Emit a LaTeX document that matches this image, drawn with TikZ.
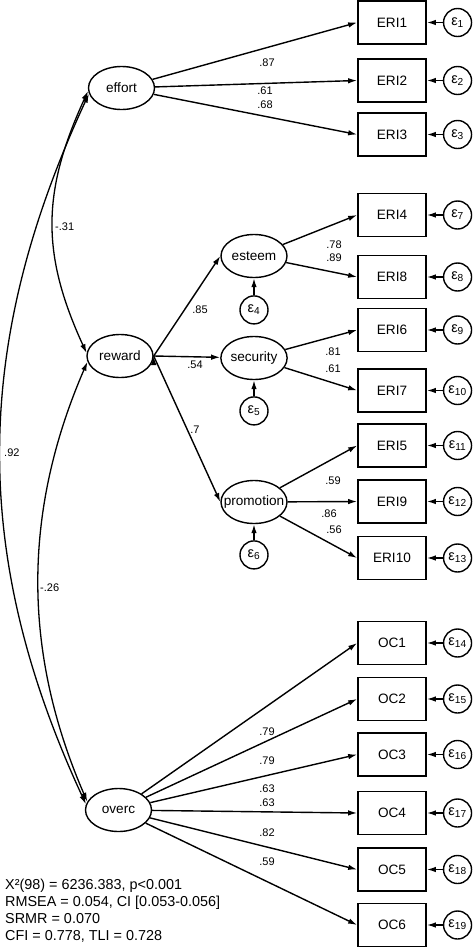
\documentclass[tikz,border=0pt]{standalone}
\usepackage{fontspec}
\setmainfont{Liberation Sans}
\usetikzlibrary{positioning,shapes.geometric,arrows.meta}

\begin{document}
\begin{tikzpicture}[x=1pt, y=-1pt,
	lat/.style={draw, ellipse, line width=1.4pt, minimum width=66pt, minimum height=43pt, inner sep=0pt, font=\fontsize{13.6}{15}\selectfont},
	obs/.style={draw, rectangle, line width=1.7pt, minimum width=68pt, minimum height=43pt, inner sep=0pt, font=\fontsize{13.6}{15}\selectfont},
	err/.style={draw, circle, line width=1.4pt, minimum size=28pt, inner sep=0pt, font=\fontsize{14.5}{15}\selectfont},
	load/.style={inner sep=0pt, font=\fontsize{11}{12}\selectfont},
	arr/.style={line width=1.4pt, -{Latex[length=9pt,width=5.5pt]}},
	cov/.style={line width=1.3pt, {Latex[length=9pt,width=5.5pt]}-{Latex[length=9pt,width=5.5pt]}}]
	\useasboundingbox (0,0) rectangle (474,948);

	\node[lat] (effort) at (121.5,88) {effort};
	\node[lat] (reward) at (120,356) {reward};
	\node[lat] (overc) at (118.5,810) {overc};
	\node[lat] (esteem) at (254,256) {esteem};
	\node[lat] (security) at (254,358) {security};
	\node[lat] (promotion) at (254,502) {\makebox[40pt]{promotion}};

	\node[obs] (eri1) at (392,22.5) {ERI1};
	\node[obs] (eri2) at (392,80.5) {ERI2};
	\node[obs] (eri3) at (392,134.5) {ERI3};
	\node[obs] (eri4) at (392,215) {ERI4};
	\node[obs] (eri8) at (392,277) {ERI8};
	\node[obs] (eri6) at (392,330) {ERI6};
	\node[obs] (eri7) at (392,390.5) {ERI7};
	\node[obs] (eri5) at (392,445.5) {ERI5};
	\node[obs] (eri9) at (392,501.5) {ERI9};
	\node[obs] (eri10) at (392,558) {ERI10};
	\node[obs] (oc1) at (392,643) {OC1};
	\node[obs] (oc2) at (392,699) {OC2};
	\node[obs] (oc3) at (392,754.5) {OC3};
	\node[obs] (oc4) at (392,813) {OC4};
	\node[obs] (oc5) at (392,869.5) {OC5};
	\node[obs] (oc6) at (392,925) {OC6};

	\node[err, right=16pt of eri1] (e1) {ε\textsubscript{1}};
	\node[err, right=16pt of eri2] (e2) {ε\textsubscript{2}};
	\node[err, right=16pt of eri3] (e3) {ε\textsubscript{3}};
	\node[err, right=16pt of eri4] (e7) {ε\textsubscript{7}};
	\node[err, right=16pt of eri8] (e8) {ε\textsubscript{8}};
	\node[err, right=16pt of eri6] (e9) {ε\textsubscript{9}};
	\node[err, right=16pt of eri7] (e10) {ε\textsubscript{10}};
	\node[err, right=16pt of eri5] (e11) {ε\textsubscript{11}};
	\node[err, right=16pt of eri9] (e12) {ε\textsubscript{12}};
	\node[err, right=16pt of eri10] (e13) {ε\textsubscript{13}};
	\node[err, right=16pt of oc1] (e14) {ε\textsubscript{14}};
	\node[err, right=16pt of oc2] (e15) {ε\textsubscript{15}};
	\node[err, right=16pt of oc3] (e16) {ε\textsubscript{16}};
	\node[err, right=16pt of oc4] (e17) {ε\textsubscript{17}};
	\node[err, right=16pt of oc5] (e18) {ε\textsubscript{18}};
	\node[err, right=16pt of oc6] (e19) {ε\textsubscript{19}};
	\node[err, below=17pt of esteem] (e4) {ε\textsubscript{4}};
	\node[err, below=16pt of security] (e5) {ε\textsubscript{5}};
	\node[err, below=16pt of promotion] (e6) {ε\textsubscript{6}};

	\draw[arr]
	(effort) edge (eri1.west) edge (eri2.west) edge (eri3.west)
	(reward.east) edge (esteem.west) edge (security) edge (promotion.west)
	(esteem) edge (eri4.west) edge (eri8.west)
	(security) edge (eri6.west) edge (eri7.west)
	(promotion) edge (eri5.west) edge (eri9.west) edge (eri10.west)
	(overc) edge (oc1.west) edge (oc2.west) edge (oc3.west) edge (oc4.west) edge (oc5.west) edge (oc6.west)
	(e4) edge (esteem) (e5) edge (security) (e6) edge (promotion)
	(e1) edge (eri1) (e2) edge (eri2) (e3) edge (eri3)
	(e7) edge (eri4) (e8) edge (eri8) (e9) edge (eri6) (e10) edge (eri7)
	(e11) edge (eri5) (e12) edge (eri9) (e13) edge (eri10)
	(e14) edge (oc1) (e15) edge (oc2) (e16) edge (oc3)
	(e17) edge (oc4) (e18) edge (oc5) (e19) edge (oc6);

	\draw[cov] (effort.185) .. controls +(-46,100) and +(-46,-100) .. (reward.175);
	\draw[cov] (effort.190) .. controls +(-116,250) and +(-116,-250) .. (overc.170);
	\draw[cov] (reward.190) .. controls +(-65,150) and +(-65,-150) .. (overc.165);

	\node[load, anchor=west] (c1) at (55,227) {-.31};
	\node[load, anchor=west] (c2) at (4,453) {.92};
	\node[load, anchor=west] (c3) at (40,588) {-.26};

	\node[load] (w1) at (267,63) {.87};
	\node[load] (w2) at (265,91) {.61};
	\node[load] (w3) at (265,105) {.68};
	\node[load] (w4) at (334,245) {.78};
	\node[load] (w5) at (334,258) {.89};
	\node[load] (w6) at (200,310) {.85};
	\node[load] (w7) at (195,365) {.54};
	\node[load] (w8) at (195,430) {.7};
	\node[load] (w9) at (333,352) {.81};
	\node[load] (w10) at (333,369) {.61};
	\node[load] (w11) at (333,481) {.59};
	\node[load] (w12) at (329,514) {.86};
	\node[load] (w13) at (334,530) {.56};
	\node[load] (w14) at (267,732) {.79};
	\node[load] (w15) at (267,761) {.79};
	\node[load] (w16) at (267,789) {.63};
	\node[load] (w17) at (267,803) {.63};
	\node[load] (w18) at (267,833) {.82};
	\node[load] (w19) at (267,862) {.59};

	\node[anchor=north west, align=left, inner sep=0pt, font=\fontsize{14.4}{17}\selectfont] (fit) at (5,879)
	{X²(98) = 6236.383, p<0.001\\RMSEA = 0.054, CI [0.053-0.056]\\SRMR = 0.070\\CFI = 0.778, TLI = 0.728};
\end{tikzpicture}
\end{document}
